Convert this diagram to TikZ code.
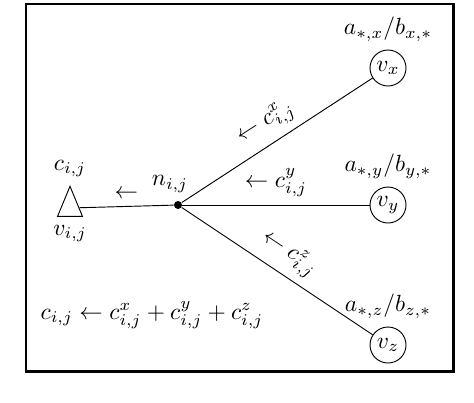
\documentclass[tikz,border=0pt]{standalone}
\usetikzlibrary{positioning,shapes.geometric}
\begin{document}
\begin{tikzpicture}[
    leaf/.style={draw, circle, inner sep=0pt, minimum size=0.54cm},
    junction/.style={fill=black, circle, inner sep=0pt, minimum size=0.12cm},
    root/.style={draw, isosceles triangle, isosceles triangle apex angle=45,
        shape border rotate=90, inner sep=0pt, minimum height=0.45cm}
]
    % Frame and margins
    \useasboundingbox (0,0) rectangle (7.11,-6.03);
    \draw[line width=1.2pt] (0.39,-0.06) rectangle (6.80,-5.57);

    % Root triangle and the junction dot
    \node[root, label=above:$c_{i,j}$, label=below:$v_{i,j}$] (v) at (1.05,-3.12) {};
    \node[junction, label={[xshift=-0.12cm]above:$n_{i,j}$}] (n) at (2.67,-3.075) {};

    % Three children on the right
    \node[leaf, label=above:$a_{*,x}/b_{x,*}$] (vx) at (5.82,-1.02) {$v_x$};
    \node[leaf, label=above:$a_{*,y}/b_{y,*}$] (vy) at (5.82,-3.075) {$v_y$};
    \node[leaf, label=above:$a_{*,z}/b_{z,*}$] (vz) at (5.82,-5.175) {$v_z$};

    % Edges with the values flowing back
    \draw (vx) -- node[sloped, above] {$\leftarrow c^x_{i,j}$} (n);
    \draw (vy) -- node[above] {$\leftarrow c^y_{i,j}$} (n);
    \draw (vz) -- node[sloped, above] {$\leftarrow c^z_{i,j}$} (n);
    \draw (n) -- node[above] {$\leftarrow$} (v);

    % Sum rule
    \node (sum) at (2.28,-4.725) {$c_{i,j} \leftarrow c^x_{i,j} + c^y_{i,j} + c^z_{i,j}$};
\end{tikzpicture}
\end{document}
